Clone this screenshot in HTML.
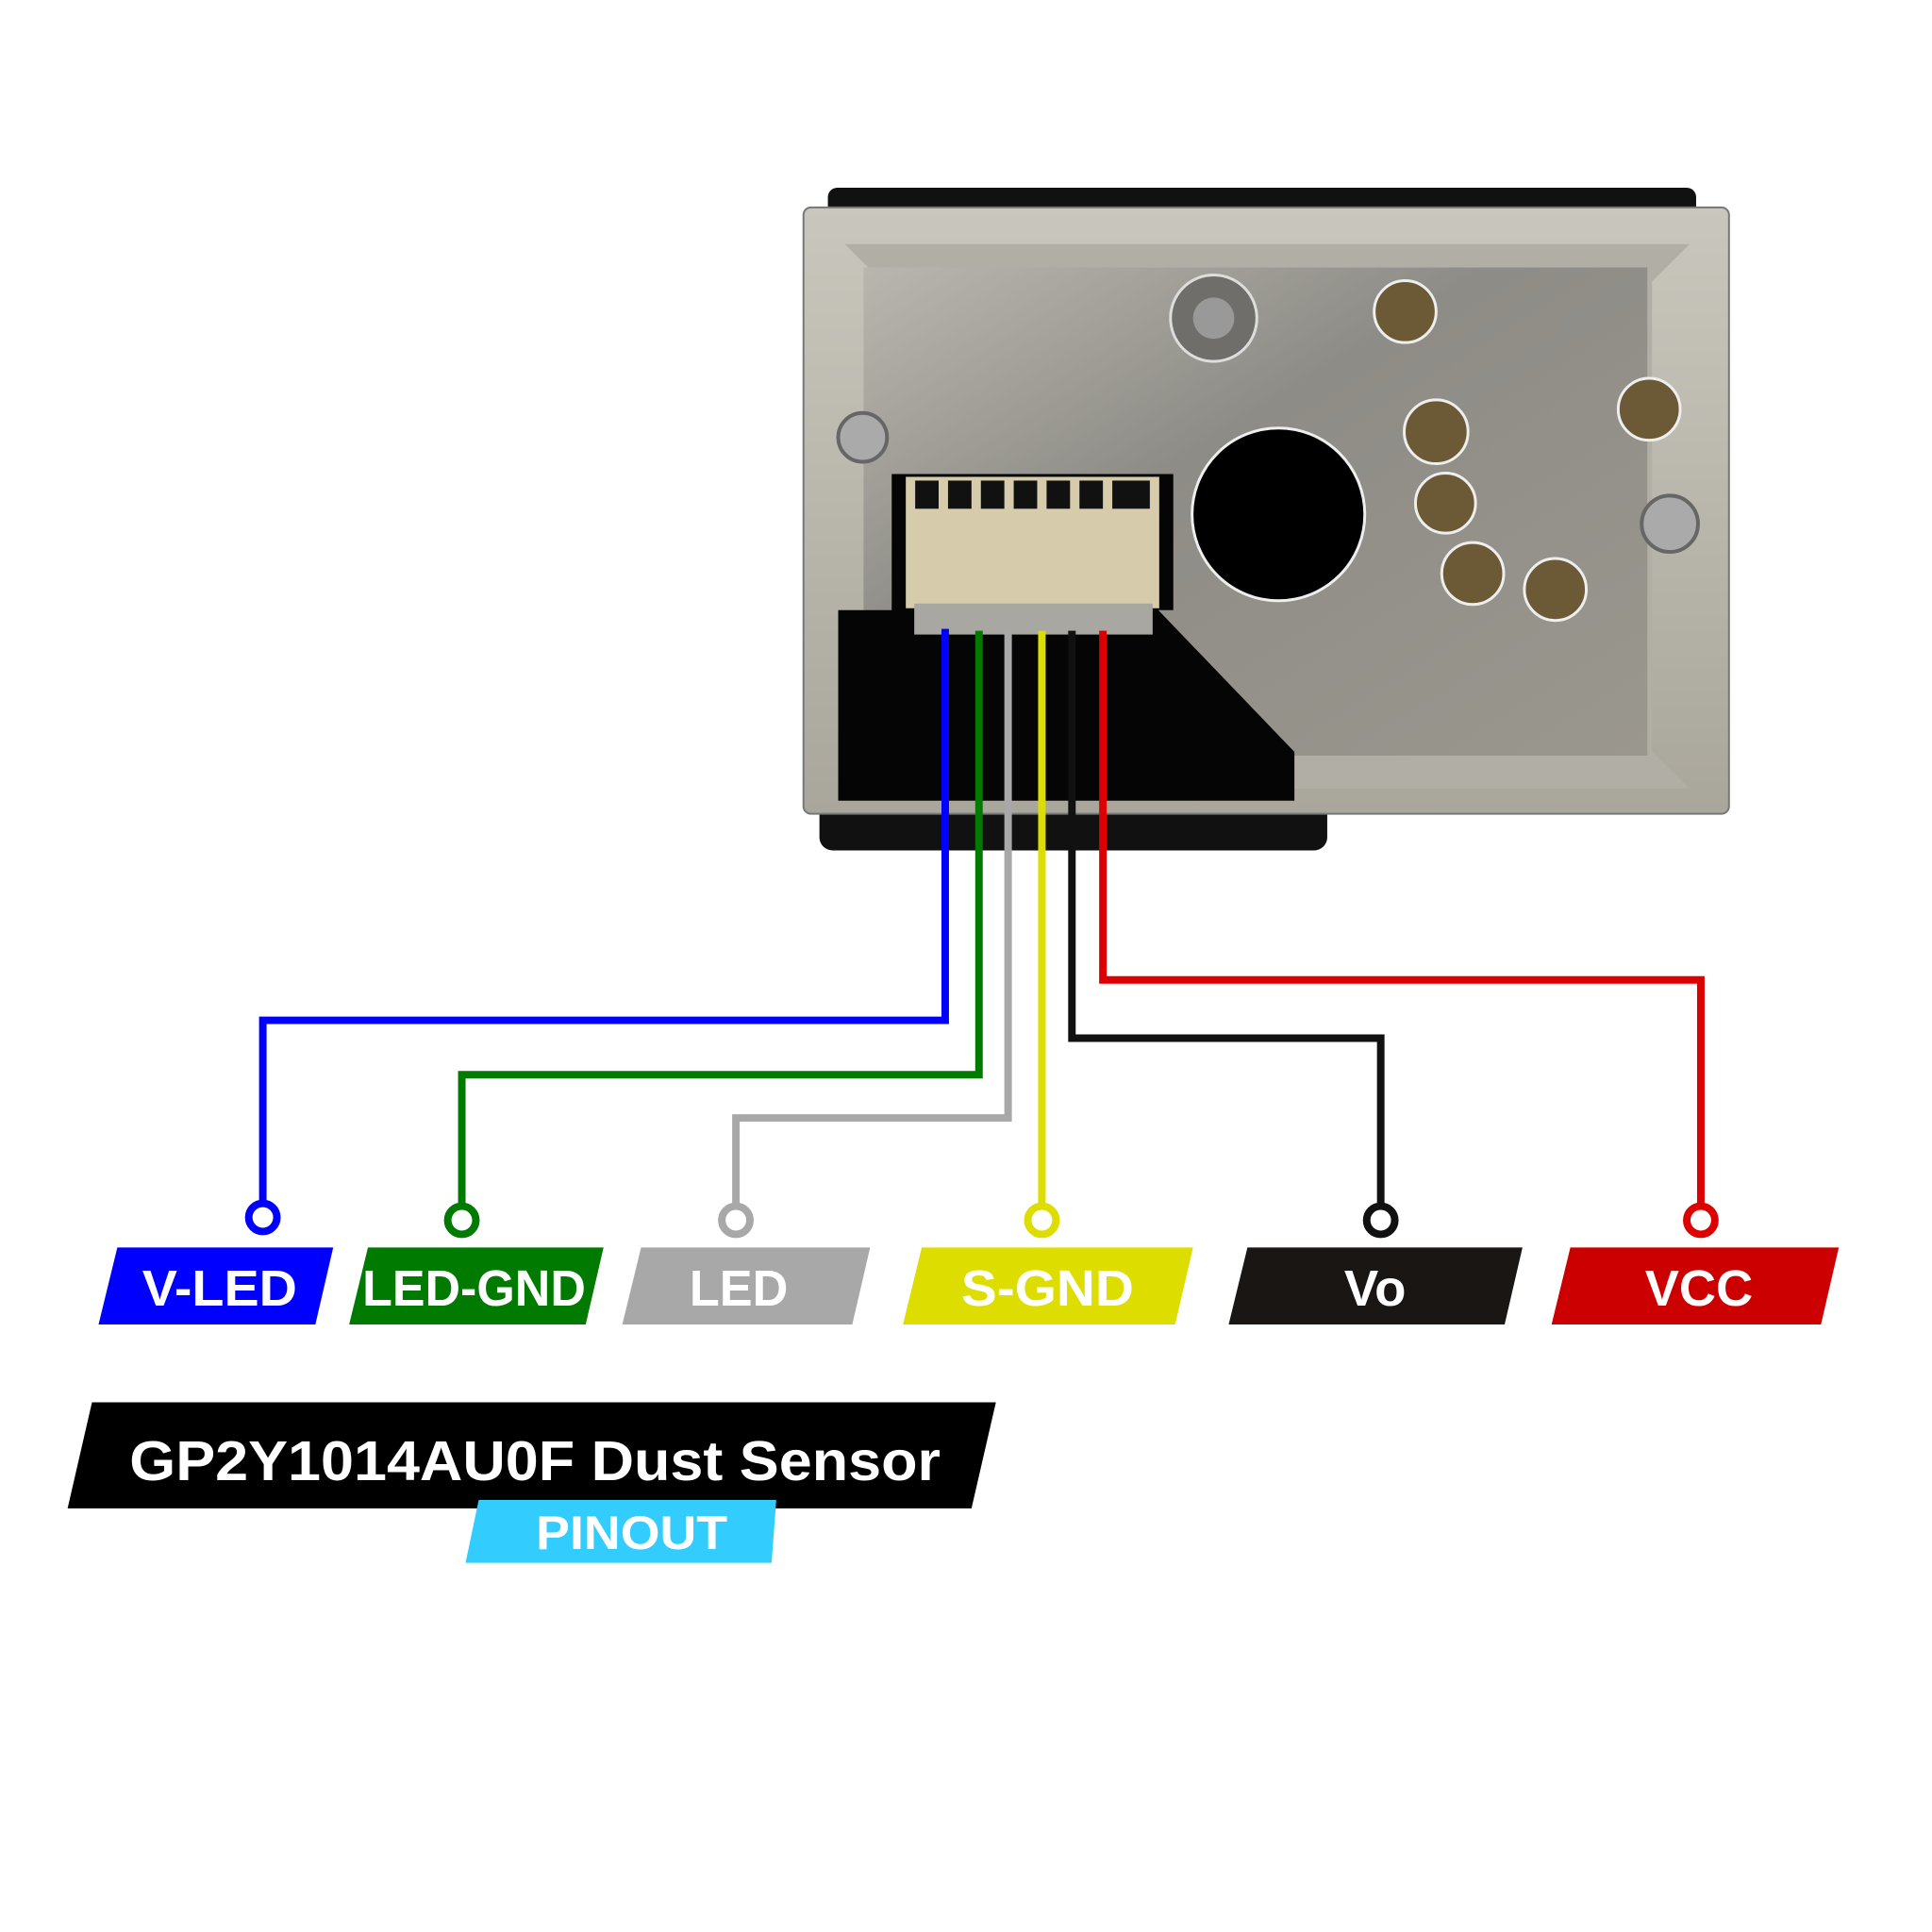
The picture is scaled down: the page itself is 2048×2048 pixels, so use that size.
<!DOCTYPE html>
<html><head><meta charset="utf-8"><style>
html,body{margin:0;padding:0;background:#fff;}
svg{display:block;}
text{font-family:"Liberation Sans",sans-serif;font-weight:bold;fill:#fff;}
</style></head><body>
<svg width="2048" height="2048" viewBox="0 0 2048 2048" xmlns="http://www.w3.org/2000/svg">
<defs>
<linearGradient id="metal" x1="0" y1="0" x2="1" y2="1">
<stop offset="0" stop-color="#b8b6ae"/><stop offset="0.4" stop-color="#8e8c86"/><stop offset="1" stop-color="#9a978e"/>
</linearGradient>
<linearGradient id="rim" x1="0" y1="0" x2="0" y2="1">
<stop offset="0" stop-color="#c9c7bd"/><stop offset="1" stop-color="#a9a69b"/>
</linearGradient>
</defs>
<g transform="scale(0.995)">
<!-- sensor body -->
<rect x="882" y="200" width="925" height="30" rx="10" fill="#111"/>
<rect x="873" y="850" width="541" height="56" rx="14" fill="#111"/>
<rect x="856" y="221" width="986" height="646" rx="8" fill="url(#rim)" stroke="#777" stroke-width="2"/>
<polygon points="900,260 1800,260 1760,300 1760,800 1800,840 900,840 940,800 940,300" fill="#b0aea5"/>
<rect x="920" y="285" width="835" height="520" fill="url(#metal)"/>
<!-- screws -->
<circle cx="919" cy="466" r="26" fill="#aaa" stroke="#666" stroke-width="4"/>
<circle cx="1779" cy="558" r="30" fill="#aaa" stroke="#666" stroke-width="4"/>
<circle cx="1293" cy="339" r="46" fill="#6f6e6a" stroke="#ddd" stroke-width="3"/>
<circle cx="1293" cy="339" r="22" fill="#999"/>
<!-- holes -->
<g fill="#6b5a35" stroke="#eee" stroke-width="3">
<circle cx="1497" cy="332" r="33"/><circle cx="1530" cy="460" r="34"/><circle cx="1540" cy="536" r="32"/>
<circle cx="1569" cy="611" r="33"/><circle cx="1657" cy="628" r="33"/><circle cx="1757" cy="436" r="33"/>
</g>
<circle cx="1362" cy="548" r="92" fill="#000" stroke="#eee" stroke-width="3"/>
<!-- black pocket -->
<polygon points="950,505 1250,505 1250,650 1234,650 1379,801 1379,853 893,853 893,650 950,650" fill="#050505"/>
<!-- connector -->
<rect x="965" y="508" width="270" height="140" fill="#d6ccac"/>
<g fill="#111"><rect x="975" y="512" width="25" height="30"/><rect x="1010" y="512" width="25" height="30"/><rect x="1045" y="512" width="25" height="30"/><rect x="1080" y="512" width="25" height="30"/><rect x="1115" y="512" width="25" height="30"/><rect x="1150" y="512" width="25" height="30"/><rect x="1185" y="512" width="40" height="30"/></g>
<rect x="974" y="643" width="254" height="33" fill="#a8a7a2"/>
<!-- wires -->
<g fill="none" stroke-width="8" stroke-linejoin="miter">
<polyline points="1007,670 1007,1087 280,1087 280,1280" stroke="#0000ff"/>
<polyline points="1043,672 1043,1145 492,1145 492,1283" stroke="#007a00"/>
<polyline points="1074,672 1074,1191 784,1191 784,1283" stroke="#a8a8a8"/>
<polyline points="1110,672 1110,1283" stroke="#dddd00"/>
<polyline points="1142,672 1142,1106 1471,1106 1471,1283" stroke="#111"/>
<polyline points="1175,672 1175,1044 1812,1044 1812,1283" stroke="#dd0000"/>
</g>
<g fill="#fff" stroke-width="8">
<circle cx="280" cy="1297" r="15" stroke="#0000ff"/>
<circle cx="492" cy="1300" r="15" stroke="#007a00"/>
<circle cx="784" cy="1300" r="15" stroke="#a8a8a8"/>
<circle cx="1110" cy="1300" r="15" stroke="#dddd00"/>
<circle cx="1471" cy="1300" r="15" stroke="#111"/>
<circle cx="1812" cy="1300" r="15" stroke="#dd0000"/>
</g>
<!-- labels -->
<polygon points="125,1329 355,1329 336,1411 105,1411" fill="#0000ff"/>
<polygon points="392,1329 643,1329 624,1411 372,1411" fill="#007a00"/>
<polygon points="683,1329 927,1329 908,1411 663,1411" fill="#a8a8a8"/>
<polygon points="982,1329 1271,1329 1252,1411 962,1411" fill="#dddd00"/>
<polygon points="1329,1329 1622,1329 1603,1411 1309,1411" fill="#1a1614"/>
<polygon points="1673,1329 1959,1329 1940,1411 1653,1411" fill="#cc0000"/>
<g font-size="54" text-anchor="middle">
<text x="234" y="1391" textLength="165" lengthAdjust="spacingAndGlyphs">V-LED</text>
<text x="505" y="1391" textLength="238" lengthAdjust="spacingAndGlyphs">LED-GND</text>
<text x="787" y="1391" textLength="105" lengthAdjust="spacingAndGlyphs">LED</text>
<text x="1116" y="1391" textLength="184" lengthAdjust="spacingAndGlyphs">S-GND</text>
<text x="1465" y="1391" textLength="66" lengthAdjust="spacingAndGlyphs">Vo</text>
<text x="1810" y="1391" textLength="115" lengthAdjust="spacingAndGlyphs">VCC</text>
</g>
<!-- title -->
<polygon points="98,1494 1061,1494 1035,1607 72,1607" fill="#000"/>
<text x="138" y="1577" font-size="60" textLength="864" lengthAdjust="spacingAndGlyphs">GP2Y1014AU0F Dust Sensor</text>
<polygon points="510,1598 827,1598 822,1665 496,1665" fill="#33ccff"/>
<text x="571" y="1650" font-size="50" textLength="204" lengthAdjust="spacingAndGlyphs">PINOUT</text>
</g>
</svg>
</body></html>
